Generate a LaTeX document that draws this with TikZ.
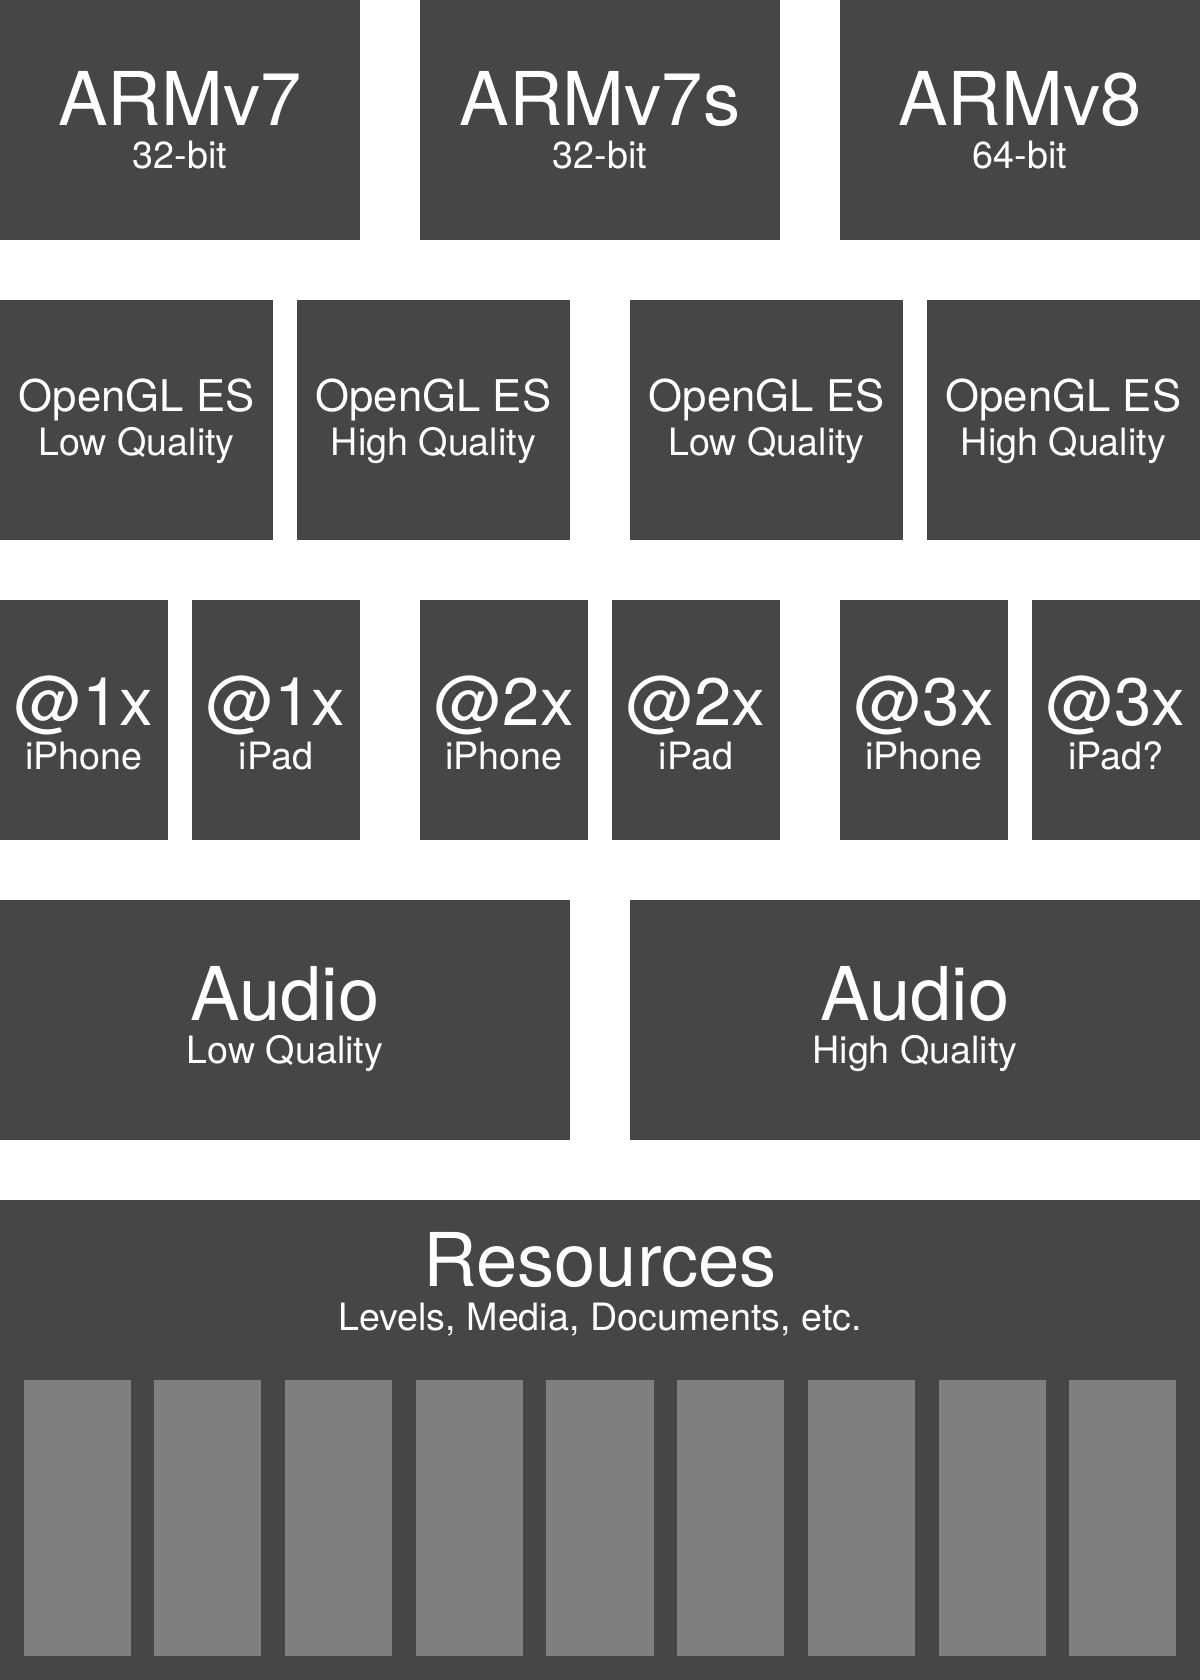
\documentclass[tikz,border=0pt]{standalone}
\usepackage{fontspec}
\setmainfont{TeX Gyre Heros}
\definecolor{boxgray}{HTML}{464646}
\definecolor{bargray}{HTML}{7F7F7F}
\tikzset{
  blk/.style={fill=boxgray},
  resbar/.style={fill=bargray},
  bigttl/.style={anchor=base, text=white, inner sep=0pt, font=\fontsize{19.7}{22}\selectfont},
  atttl/.style={anchor=base, text=white, inner sep=0pt, font=\fontsize{17.8}{22}\selectfont},
  midttl/.style={anchor=base, text=white, inner sep=0pt, font=\fontsize{11.6}{14}\selectfont},
  subttl/.style={anchor=base, text=white, inner sep=0pt, font=\fontsize{10}{12}\selectfont},
}
\begin{document}
\begin{tikzpicture}[x=0.1mm,y=-0.1mm]
\fill[white] (0,0) rectangle (1120,1568);
\useasboundingbox (0,0) rectangle (1120,1568);

% Row 1: architectures
\fill[blk] (0,0) rectangle (336,224);
\fill[blk] (392,0) rectangle (728,224);
\fill[blk] (784,0) rectangle (1120,224);
\node[bigttl] (a1) at (168,117) {ARMv7};
\node[subttl] (a1s) at (168,157) {32-bit};
\node[bigttl] (a2) at (560,117) {ARMv7s};
\node[subttl] (a2s) at (560,157) {32-bit};
\node[bigttl] (a3) at (952,117) {ARMv8};
\node[subttl] (a3s) at (952,157) {64-bit};

% Row 2: OpenGL ES
\fill[blk] (0,280) rectangle (255,504);
\fill[blk] (277,280) rectangle (532,504);
\fill[blk] (588,280) rectangle (843,504);
\fill[blk] (865,280) rectangle (1120,504);
\node[midttl] (g1) at (127.5,384) {OpenGL ES};
\node[subttl] (g1s) at (127.5,425) {Low Quality};
\node[midttl] (g2) at (404.5,384) {OpenGL ES};
\node[subttl] (g2s) at (404.5,425) {High Quality};
\node[midttl] (g3) at (715.5,384) {OpenGL ES};
\node[subttl] (g3s) at (715.5,425) {Low Quality};
\node[midttl] (g4) at (992.5,384) {OpenGL ES};
\node[subttl] (g4s) at (992.5,425) {High Quality};

% Row 3: scale factors
\fill[blk] (0,560) rectangle (157,784);
\fill[blk] (179,560) rectangle (336,784);
\fill[blk] (392,560) rectangle (549,784);
\fill[blk] (571,560) rectangle (728,784);
\fill[blk] (784,560) rectangle (941,784);
\fill[blk] (963,560) rectangle (1120,784);
\node[atttl] (s1) at (78.5,677) {@1x};
\node[subttl] (s1s) at (78.5,718) {iPhone};
\node[atttl] (s2) at (257.5,677) {@1x};
\node[subttl] (s2s) at (257.5,718) {iPad};
\node[atttl] (s3) at (470.5,677) {@2x};
\node[subttl] (s3s) at (470.5,718) {iPhone};
\node[atttl] (s4) at (649.5,677) {@2x};
\node[subttl] (s4s) at (649.5,718) {iPad};
\node[atttl] (s5) at (862.5,677) {@3x};
\node[subttl] (s5s) at (862.5,718) {iPhone};
\node[atttl] (s6) at (1041.5,677) {@3x};
\node[subttl] (s6s) at (1041.5,718) {iPad?};

% Row 4: audio
\fill[blk] (0,840) rectangle (532,1064);
\fill[blk] (588,840) rectangle (1120,1064);
\node[bigttl] (au1) at (266,952) {Audio};
\node[subttl] (au1s) at (266,993) {Low Quality};
\node[bigttl] (au2) at (854,952) {Audio};
\node[subttl] (au2s) at (854,993) {High Quality};

% Row 5: resources
\fill[blk] (0,1120) rectangle (1120,1568);
\node[bigttl] (res) at (560,1201) {Resources};
\node[subttl] (ress) at (560,1242) {Levels, Media, Documents, etc.};
\foreach \i in {0,...,8} {
  \fill[resbar] ({22+\i*122},1288) rectangle ({122+\i*122},1546);
}
\end{tikzpicture}
\end{document}
